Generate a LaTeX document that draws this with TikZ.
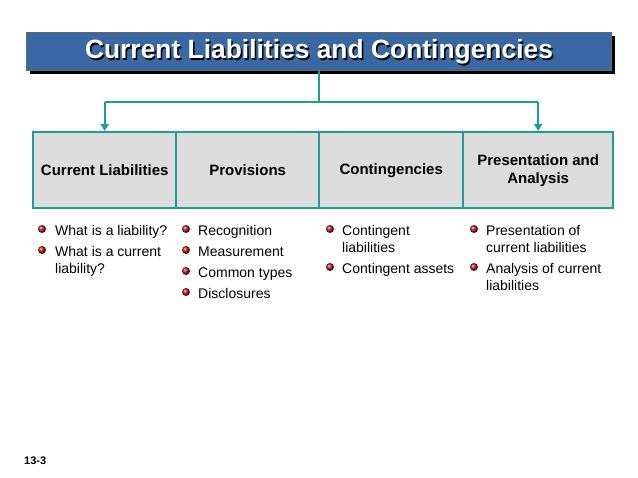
\documentclass[tikz,border=0pt]{standalone}
\usepackage{fontspec}
\setmainfont{Liberation Sans}
\usetikzlibrary{arrows.meta,shadings}
\definecolor{teal1}{HTML}{1E9C98}
\definecolor{titleblue}{HTML}{3A68A3}
\definecolor{cellgrey}{HTML}{DCDCDC}
\definecolor{dotred}{HTML}{B01010}
\tikzset{
  cell/.style={draw=teal1,line width=2.4pt,fill=cellgrey,minimum height=76pt,inner sep=0pt,font=\fontsize{15}{18}\selectfont\bfseries,align=center},
  conn/.style={draw=teal1,line width=2.4pt},
  item/.style={anchor=north west,inner sep=0pt,align=left,font=\fontsize{14}{17}\selectfont},
  dot/.style={circle,inner sep=0pt,minimum size=8pt,ball color=dotred,draw=none},
}
\newcommand{\itm}[1]{\strut#1}
\begin{document}
\begin{tikzpicture}[x=1pt,y=-1pt]
\useasboundingbox (0,0) rectangle (638,478);
% title
\fill[black] (30,36) rectangle (615,74);
\node[draw=black!60,line width=0.4pt,fill=titleblue,minimum width=585pt,minimum height=38pt,inner sep=0pt,anchor=north west] (title) at (26,32) {};
\node[text=black,font=\fontsize{26.4}{30}\selectfont\bfseries] (titleshadow) at (320.5,53.5) {Current Liabilities and Contingencies};
\node[text=white,font=\fontsize{26.4}{30}\selectfont\bfseries] (titletext) at (319,52) {Current Liabilities and Contingencies};
% cells
\node[cell,minimum width=143pt,anchor=north west] (c1) at (32,131) {Current Liabilities};
\node[cell,minimum width=143pt,anchor=north west] (c2) at (175,131) {Provisions};
\node[cell,minimum width=144pt,anchor=north west] (c3) at (318,131) {Contingencies};
\node[cell,minimum width=150pt,anchor=north west] (c4) at (462,131) {Presentation and\\Analysis};
% connectors
\coordinate (jn) at (319,102);
\coordinate (jl) at (c1.north |- jn);
\coordinate (jr) at (c4.north |- jn);
\draw[conn] (title.south -| jn) -- (jn);
\draw[conn] (jl) -- (jr);
\draw[conn,-{Triangle[length=7pt,width=8pt]}] (jl) -- (c1.north);
\draw[conn,-{Triangle[length=7pt,width=8pt]}] (jr) -- (c4.north);
% column 1 (top = baseline - 11.9)
\node[dot] (b11) at (42,229) {}; \node[item] (t11) at (55,223.1) {\itm{What is a liability?}};
\node[dot] (b12) at (42,250) {}; \node[item] (t12) at (55,244.1) {\itm{What is a current}\\\itm{liability?}};
% column 2
\node[dot] (b21) at (186,229) {}; \node[item] (t21) at (198,223.1) {\itm{Recognition}};
\node[dot] (b22) at (186,250) {}; \node[item] (t22) at (198,244.1) {\itm{Measurement}};
\node[dot] (b23) at (186,271) {}; \node[item] (t23) at (198,265.1) {\itm{Common types}};
\node[dot] (b24) at (186,292) {}; \node[item] (t24) at (198,286.1) {\itm{Disclosures}};
% column 3
\node[dot] (b31) at (330,229) {}; \node[item] (t31) at (342,223.1) {\itm{Contingent}\\\itm{liabilities}};
\node[dot] (b32) at (330,267) {}; \node[item] (t32) at (342,261.1) {\itm{Contingent assets}};
% column 4
\node[dot] (b41) at (474,229) {}; \node[item] (t41) at (486,223.1) {\itm{Presentation of}\\\itm{current liabilities}};
\node[dot] (b42) at (474,267) {}; \node[item] (t42) at (486,261.1) {\itm{Analysis of current}\\\itm{liabilities}};
% page number
\node[anchor=base west,inner sep=0pt,font=\fontsize{11}{12}\selectfont\bfseries] (pg) at (24,465) {13-3};
\end{tikzpicture}
\end{document}
